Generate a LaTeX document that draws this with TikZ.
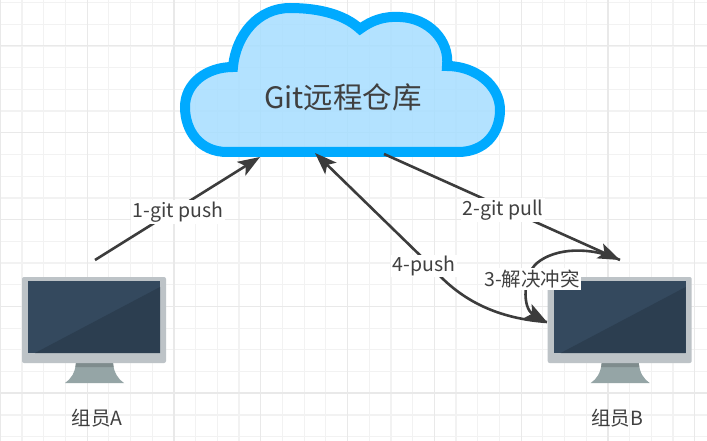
\documentclass[tikz,border=0pt]{standalone}
\usepackage{fontspec}
\setmainfont{Noto Sans CJK SC}
\usetikzlibrary{arrows.meta}
\definecolor{textgray}{HTML}{404040}
\definecolor{linegray}{HTML}{3C3C3C}
\definecolor{gridminor}{HTML}{F2F2F2}
\definecolor{gridmajor}{HTML}{E9E9E9}
\definecolor{cloudline}{HTML}{00AAFF}
\definecolor{cloudfill}{HTML}{A6DEFF}
\definecolor{frameclr}{HTML}{BDC3C7}
\definecolor{standclr}{HTML}{95A5A6}
\definecolor{standdark}{HTML}{7F8C8D}
\definecolor{screenlight}{HTML}{34495E}
\definecolor{screendark}{HTML}{2C3E50}
\tikzset{
	lbl/.style={fill=white,text=textgray,inner sep=1.5pt,font=\fontsize{19.5}{22}\selectfont},
	conn/.style={draw=linegray,line width=2.6pt},
	tipped/.style={conn,-{Stealth[length=22pt,width=16pt,inset=5pt]}},
	frame/.style={fill=frameclr,draw=none,rounded corners=2pt,minimum width=144pt,minimum height=86pt,inner sep=0pt},
}
\begin{document}
\begin{tikzpicture}[x=1pt,y=-1pt]
	\useasboundingbox (0,0) rectangle (707,441);
	\fill[white] (0,0) rectangle (707,441);
	% background grid
	\foreach \i in {0,...,32} \draw[gridminor,line width=1.2pt] ({0.3+21.7*\i},0) -- ({0.3+21.7*\i},441);
	\foreach \i in {0,...,20} \draw[gridminor,line width=1.2pt] (0,{2.6+21.7*\i}) -- (707,{2.6+21.7*\i});
	\foreach \i in {0,...,8} \draw[gridmajor,line width=1.2pt] ({0.3+86.8*\i},0) -- ({0.3+86.8*\i},441);
	\foreach \i in {0,...,4} \draw[gridmajor,line width=1.2pt] (0,{45.7+86.8*\i}) -- (707,{45.7+86.8*\i});
	% cloud
	\filldraw[fill=cloudfill,fill opacity=0.85,draw=cloudline,line width=10pt]
		(227,152) .. controls (200,152) and (185,131) .. (185,107)
		.. controls (185,83) and (207,67) .. (233,67)
		.. controls (236,35) and (258,8) .. (290,8)
		.. controls (320,8) and (345,15) .. (360,29)
		.. controls (372,20) and (385,16) .. (400,17)
		.. controls (428,18) and (450,40) .. (447,66)
		.. controls (475,66) and (500,85) .. (500,110)
		.. controls (500,133) and (485,152) .. (458,152) -- cycle;
	\node[text=textgray,inner sep=0pt,font=\fontsize{29.5}{32}\selectfont] (repo) at (343,97) {Git远程仓库};
	% monitors
	\foreach \name/\dx in {pcA/0,pcB/525.7} {
		\begin{scope}[shift={(\dx,0)}]
			\fill[standclr] (76,363) -- (113,363) .. controls (114,373) and (118,379) .. (124,383) -- (65,383) .. controls (71,379) and (75,373) .. (76,363) -- cycle;
			\fill[standdark] (76,363) -- (113,363) -- (113.6,367) -- (75.4,367) -- cycle;
			\node[frame] (\name) at (94,320) {};
			\fill[screenlight] (28,281) rectangle (160,353);
			\fill[screendark] (35,353) -- (160,287) -- (160,353) -- cycle;
		\end{scope}
	}
	\node[lbl,fill=none] (nameA) at (97,418) {组员A};
	\node[lbl,fill=none] (nameB) at (617,418) {组员B};
	% end points
	\coordinate (a1) at (95,260);
	\coordinate (a2) at (260,157);
	\coordinate (b1) at (384,154);
	\coordinate (b2) at (620,260);
	\coordinate (c1) at (547,322);
	\coordinate (d1) at (315,153);
	% connectors
	\draw[tipped] (a1) -- (a2);
	\draw[tipped] (b1) -- (b2);
	\draw[tipped] (b2) .. controls (590,246) and (555,248) .. (537,263) .. controls (523,275) and (522,308) .. (c1);
	\draw[tipped] (c1) .. controls (490,318) and (455,295) .. (430,265) -- (d1);
	% labels
	\node[lbl] (push1) at (178,212) {1-git push};
	\node[lbl] (pull2) at (503,210) {2-git pull};
	\node[lbl] (fix3) at (532,279) {3-解决冲突};
	\node[lbl] (push4) at (424,266) {4-push};
\end{tikzpicture}
\end{document}
